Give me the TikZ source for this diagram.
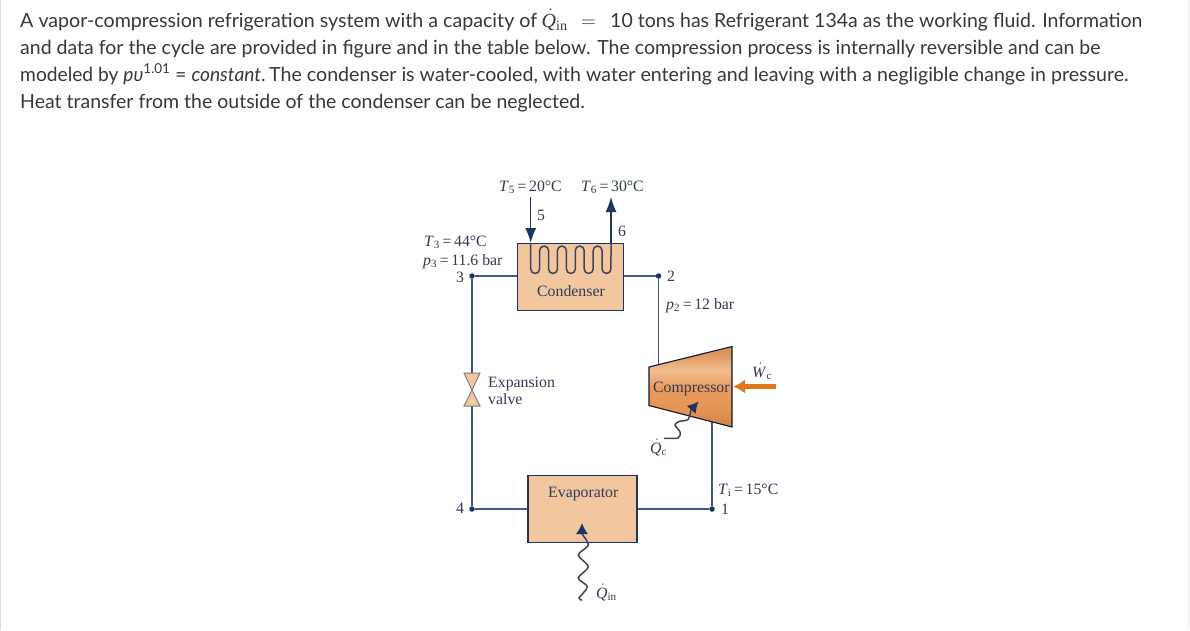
\documentclass[tikz,border=0pt]{standalone}
\usepackage{fontspec}
\setmainfont{Lato}
\newfontfamily\figfont{Liberation Serif}
\usetikzlibrary{arrows.meta}
\definecolor{navy}{HTML}{1F3560}
\definecolor{ink}{HTML}{2F3B55}
\definecolor{pipe}{HTML}{44598A}
\definecolor{tan}{HTML}{F2C79F}
\definecolor{hot}{HTML}{E0761E}
\definecolor{coilc}{HTML}{3F4558}
\definecolor{c1}{HTML}{D07F40}
\definecolor{c2}{HTML}{E39454}
\definecolor{c3}{HTML}{EA9C60}
\definecolor{c4}{HTML}{F2BE90}
\definecolor{c5}{HTML}{DE9860}
\definecolor{c6}{HTML}{D98F55}
\newcommand{\vsub}[2]{\textit{#1}\textsubscript{#2}}
\newcommand{\dotvar}[1]{$\skew{3}{\dot}{\hbox{\textit{#1}}}$}
\newcommand{\wide}[2]{\scalebox{#1}[1]{#2}}
\pgfdeclareverticalshading{compshade}{100bp}{color(0bp)=(c1); color(25bp)=(c1); color(35bp)=(c2); color(50bp)=(c3); color(60bp)=(c4); color(70bp)=(c5); color(75bp)=(c6); color(100bp)=(c6)}
\begin{document}
\begin{tikzpicture}[x=1pt,y=-1pt,
para/.style={anchor=base west, inner sep=0pt, text=black!78, font=\fontsize{19.5}{23}\selectfont},
lab/.style={anchor=base west, inner sep=0pt, text=ink, font=\fontsize{15.8}{18}\selectfont\figfont},
box/.style={draw=navy, fill=tan, line width=1.1pt, rectangle, inner sep=0pt},
pipeline/.style={draw=pipe, line width=1.4pt},
dot/.style={circle, fill=navy, inner sep=0pt, minimum size=5.5pt},
heat/.style={draw=coilc, line width=1.5pt},
heattip/.style={draw=navy, line width=1.5pt, -{Latex[length=11pt,width=12pt]}},
]
\useasboundingbox (0,0) rectangle (1190,630);
\fill[white] (0,0) rectangle (1190,630);
\fill[black!14] (0,0) rectangle (1.2,630);
\fill[black!8] (1187.5,0) rectangle (1188.5,630);
% question text
\node[para] (line1a) at (20,27) {\wide{1.007}{A vapor-compression refrigeration system with a capacity of}};
\node[para, font=\fontsize{20}{23}\selectfont\figfont] (qdot) at (541.5,27) {\dotvar{Q}\textsubscript{in}};
\node[para, font=\fontsize{20}{23}\selectfont] (eqsign) at (581,27) {$=$};
\node[para] (line1b) at (610,27) {10 tons has Refrigerant 134a as the working fluid. Information};
\node[para] (line2) at (20,54.5) {and data for the cycle are provided in figure and in the table below. The compression process is internally reversible and can be};
\node[para] (line3a) at (20,81.5) {\wide{.985}{modeled by \textit{pυ}\textsuperscript{1.01} = \textit{constant}.}};
\node[para] (line3b) at (269,81.5) {\wide{1.006}{The condenser is water-cooled, with water entering and leaving with a negligible change in pressure.}};
\node[para] (line4) at (20,108.7) {Heat transfer from the outside of the condenser can be neglected.};
% states
\node[dot] (st3) at (472,276) {};
\node[dot] (st2) at (658.5,276) {};
\node[dot] (st4) at (472,509) {};
\node[dot] (st1) at (712,509) {};
\coordinate (compin) at (712,421);
\coordinate (compout) at (658.5,364);
\coordinate (valvetop) at (472,373);
\coordinate (valvemid) at (472,390);
\coordinate (valvebot) at (472,406);
% pipes go below the boxes
\draw[pipeline] (st3) -- (st2);
\draw[pipeline] (st2) -- (compout);
\draw[pipeline] (st3) -- (valvetop);
\draw[pipeline] (valvebot) -- (st4);
\draw[pipeline] (st4) -- (st1);
\draw[pipeline] (st1) -- (compin);
\node[box, minimum width=106.5pt, minimum height=67.5pt] (cond) at (570.5,277) {};
\node[box, minimum width=109pt, minimum height=66.5pt] (evap) at (582.5,509) {};
% valve
\draw[fill=tan, draw=black!50, line width=1pt] (464,373) -- (480,373) -- (valvemid) -- cycle;
\draw[fill=tan, draw=black!50, line width=1pt] (464,406) -- (480,406) -- (valvemid) -- cycle;
% compressor
\path[shading=compshade, draw=black!55!navy, line width=1.1pt]
  (649,367) -- (732,346.5) -- (732,427) -- (649,405.5) -- cycle;
\coordinate (compr) at (733,386.5);
\coordinate (wstart) at (776,386.5);
\draw[draw=hot, line width=4.5pt, -{Latex[length=12pt,width=14pt]}] (wstart) -- (compr);
% coil
\coordinate (coilin) at (530.7,243);
\coordinate (coilout) at (611,243);
\coordinate (ws5) at (530.7,197);
\coordinate (ws6) at (611,197);
\draw[coilc, line width=1.5pt] (coilin) -- ++(0,26)
  \foreach \i in {1,...,4}{ arc[start angle=180,end angle=360,radius=4.46pt] -- ++(0,-18.5) arc[start angle=180,end angle=0,radius=4.46pt] -- ++(0,18.5) }
  arc[start angle=180,end angle=360,radius=4.46pt] -- (coilout);
\draw[navy, line width=1.3pt, -{Latex[length=15pt,width=11pt]}] (ws5) -- (coilin);
\draw[navy, line width=1.3pt, -{Latex[length=15pt,width=11pt]}] (coilout) -- (ws6);
% heat
\coordinate (qin) at (582,600);
\coordinate (qinbase) at (582,534);
\coordinate (qintip) at (582,523);
\coordinate (qc) at (664,438.3);
\coordinate (qcbase) at (691,410);
\coordinate (qctip) at (698.5,401.5);
\draw[heat] plot[smooth] coordinates {(qin) (579,598) (587.3,586.7) (578.3,578) (588.3,566.7) (578.3,555) (588.3,545) (qinbase)};
\draw[heattip] (qinbase) -- (qintip);
\draw[heat] plot[smooth] coordinates {(qc) (678,438) (680,432) (675,425) (679,421.5) (688,419.5) (qcbase)};
\draw[heattip] (qcbase) -- (qctip);
% labels
\node[lab] (t5) at (499,191) {\vsub{T}{5}\,=\,20°C};
\node[lab] (t6) at (581,191) {\vsub{T}{6}\,=\,30°C};
\node[lab] (n5) at (537,220) {5};
\node[lab] (n6) at (618,236) {6};
\node[lab] (t3) at (424,246) {\vsub{T}{3}\,=\,44°C};
\node[lab] (p3) at (423,265) {\vsub{p}{3}\,=\,11.6 bar};
\node[lab] (n3) at (456,282) {3};
\node[lab] (n2) at (667,281) {2};
\node[lab] (p2) at (666,309) {\vsub{p}{2}\,=\,12 bar};
\node[lab] (n4) at (456,513) {4};
\node[lab] (n1) at (721,514) {1};
\node[lab] (ti) at (718,494) {\vsub{T}{i}\,=\,15°C};
\node[lab] (condlab) at (537,296) {Condenser};
\node[lab] (evaplab) at (548,497) {Evaporator};
\node[lab] (explab) at (488,387) {Expansion};
\node[lab] (vallab) at (488,404) {valve};
\node[lab] (complab) at (653,392) {Compressor};
\node[lab] (wc) at (752,377) {\dotvar{W}\textsubscript{c}};
\node[lab] (qclab) at (650,453) {\dotvar{Q}\textsubscript{c}};
\node[lab] (qinlab) at (596,598) {\dotvar{Q}\textsubscript{in}};
\end{tikzpicture}
\end{document}
